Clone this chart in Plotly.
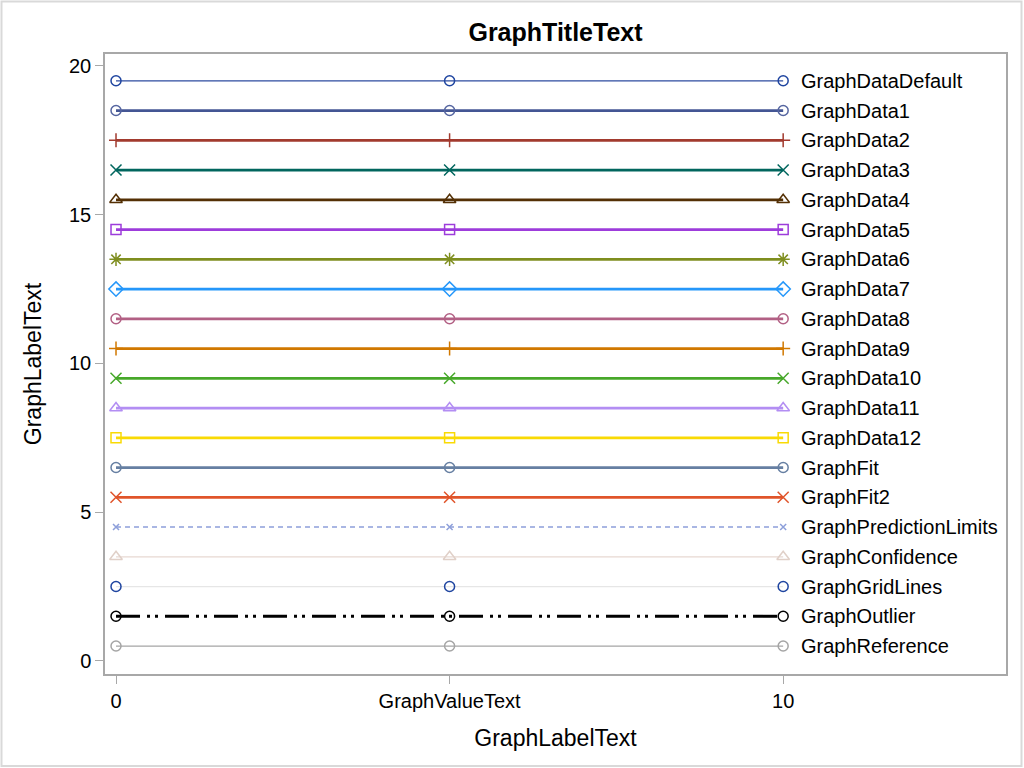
import plotly.graph_objects as go

# style elements, top to bottom
names = ['GraphDataDefault', 'GraphData1', 'GraphData2', 'GraphData3', 'GraphData4',
         'GraphData5', 'GraphData6', 'GraphData7', 'GraphData8', 'GraphData9',
         'GraphData10', 'GraphData11', 'GraphData12', 'GraphFit', 'GraphFit2',
         'GraphPredictionLimits', 'GraphConfidence', 'GraphGridLines', 'GraphOutlier',
         'GraphReference']
y_values = [19.5, 18.5, 17.5, 16.5, 15.5, 14.5, 13.5, 12.5, 11.5, 10.5,
            9.5, 8.5, 7.5, 6.5, 5.5, 4.5, 3.5, 2.5, 1.5, 0.5]
x_values = [0, 5, 10]
x_tick_vals = [0, 5, 10]
x_tick_text = ['0', 'GraphValueText', '10']
y_tick_vals = [0, 5, 10, 15, 20]

line_colors = ['#2D4B9F', '#445694', '#A23A2E', '#01665E', '#543005',
               '#9D3CDB', '#7F8E1F', '#2597FA', '#B26084', '#D17800',
               '#47A82A', '#B38EF3', '#F9DA04', '#667FA2', '#E0542A',
               '#8D9FDA', '#E7D8D2', '#E6E6E6', '#000000', '#A5A5A5']
marker_colors = ['#1F45A0', '#5565A0', '#A23A2E', '#01665E', '#543005',
                 '#9D3CDB', '#7F8E1F', '#2597FA', '#B26084', '#D17800',
                 '#47A82A', '#B38EF3', '#F9DA04', '#667FA2', '#E0542A',
                 '#8D9FDA', '#E0D0C8', '#1F45A0', '#000000', '#A5A5A5']
symbols = ['circle-open', 'circle-open', 'cross-thin-open', 'x-thin-open', 'triangle-up-open',
           'square-open', 'asterisk-open', 'diamond-open', 'circle-open', 'cross-thin-open',
           'x-thin-open', 'triangle-up-open', 'square-open', 'circle-open', 'x-thin-open',
           'x-thin-open', 'triangle-up-open', 'circle-open', 'circle-open', 'circle-open']
marker_sizes = [10, 10, 10, 11, 11, 10, 11, 11, 10, 10, 11, 11, 10, 10, 11, 6, 11, 10, 10, 10]
line_widths = [1.3, 2.7, 2.7, 2.7, 2.7, 2.7, 2.7, 2.7, 2.7, 2.7,
               2.7, 2.7, 2.7, 2.7, 2.7, 1.5, 1.3, 1.3, 3, 1.3]
dashes = ['solid'] * 15 + ['5px,4px', 'solid', 'solid', '24px,7px,3px,5px,3px,7px', 'solid']

fig = go.Figure()
for i, name in enumerate(names):
    fig.add_trace(go.Scatter(
        x=x_values, y=[y_values[i]] * len(x_values), mode='lines+markers', name=name,
        line=dict(color=line_colors[i], width=line_widths[i], dash=dashes[i]),
        marker=dict(symbol=symbols[i], size=marker_sizes[i], color=marker_colors[i],
                    line=dict(width=1.5, color=marker_colors[i])),
        showlegend=False))
    fig.add_annotation(x=x_values[-1], y=y_values[i], text=name, showarrow=False,
                       xanchor='left', xshift=16, font=dict(size=20, color='#000000'))

axis_font = dict(family='Liberation Sans, Arial, sans-serif', size=20, color='#000000')
fig.update_xaxes(range=[-0.165, 13.34], tickvals=x_tick_vals, ticktext=x_tick_text,
                 showgrid=False, zeroline=False, showline=True, mirror=True,
                 linecolor='#A8A8A8', linewidth=1.5, ticks='outside', ticklen=8,
                 tickcolor='#A8A8A8', tickfont=axis_font,
                 title=dict(text='GraphLabelText', font=dict(size=23, color='#000000'), standoff=19))
fig.update_yaxes(range=[-0.44, 20.4], tickvals=y_tick_vals,
                 showgrid=False, zeroline=False, showline=True, mirror=True,
                 linecolor='#A8A8A8', linewidth=1.5, ticks='outside', ticklen=8,
                 tickcolor='#A8A8A8', tickfont=axis_font,
                 title=dict(text='GraphLabelText', font=dict(size=23, color='#000000'), standoff=21))

# light border around the whole image
fig.add_shape(type='rect', xref='paper', yref='paper',
              x0=(1.5 - 105) / 901, x1=(1021.5 - 105) / 901,
              y0=(674 - 766) / 620, y1=(674 - 1.5) / 620,
              line=dict(color='#D9D9D9', width=2))

fig.update_layout(
    width=1024, height=768,
    margin=dict(l=105, r=18, t=54, b=94),
    paper_bgcolor='white', plot_bgcolor='white',
    font=dict(family='Liberation Sans, Arial, sans-serif', size=20, color='#000000'),
    title=dict(text='<b>GraphTitleText</b>', x=0.5, xref='paper', y=1 - 32 / 768,
               yref='container', yanchor='middle', font=dict(size=25, color='#000000')),
)

fig.write_html('out.html', config={'displayModeBar': False},
               post_script="document.body.style.margin='0';")
